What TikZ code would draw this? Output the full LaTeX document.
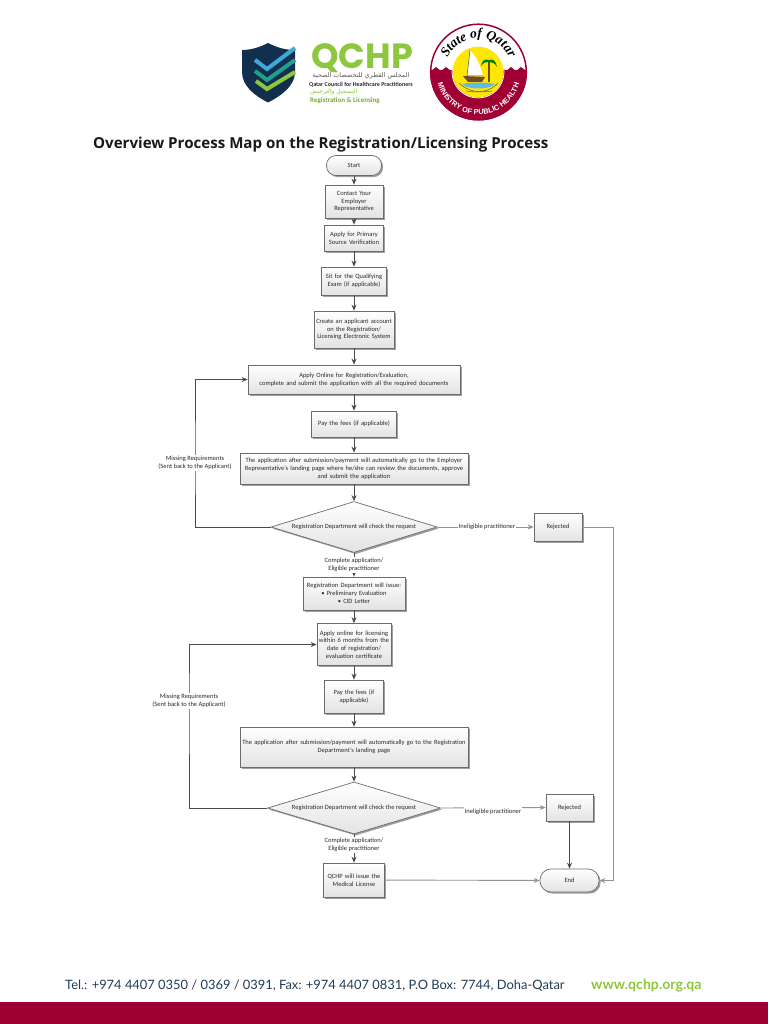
\documentclass[tikz,border=0pt]{standalone}
\usepackage{fontspec}
\setmainfont{Carlito}
\newfontfamily\titlefont{Open Sans}
\newfontfamily\logofont{Poppins}
\newfontfamily\footfont{Lato}
\newfontfamily\sealfont{Liberation Serif}
\newfontfamily\sealsans{Liberation Sans}
\newfontfamily\arabicfont[Script=Arabic]{DejaVu Sans}
\TeXXeTstate=1
\usetikzlibrary{shapes.geometric,shadows,arrows.meta,decorations.text}
\definecolor{qgreen}{HTML}{8DC63F}
\definecolor{qmaroon}{HTML}{A00033}
\definecolor{qnavy}{HTML}{12304D}
\definecolor{qblue}{HTML}{3FA9DC}
\definecolor{qteal}{HTML}{1FA08C}
\definecolor{lineg}{HTML}{4A4A4A}
\definecolor{txt}{HTML}{2A2A2A}
\tikzset{
  boxlook/.style={draw=gray!85!black,line width=.7pt,top color=white,bottom color=gray!22,
    drop shadow={shadow xshift=1.6pt,shadow yshift=-1.6pt,fill=gray!75,opacity=1},
    text=txt,font=\fontsize{6.5}{7.8}\selectfont,align=center,inner sep=0pt},
  flowbox/.style={boxlook,rectangle},
  term/.style={boxlook,rectangle,rounded corners=9.5pt},
  decide/.style={boxlook,diamond,aspect=3.2},
  flow/.style={draw=lineg,line width=.9pt,-{Stealth[length=6pt,width=5pt]}},
  flowlight/.style={flow,draw=gray!85},
  lab/.style={fill=white,text=txt,font=\fontsize{6.5}{7.8}\selectfont,align=center,inner sep=1pt},
  bx/.style 2 args={minimum width=#1pt,minimum height=#2pt,text width=#1pt},
}
\begin{document}
\begin{tikzpicture}[x=1pt,y=-1pt]
\useasboundingbox (0,0) rectangle (768,1024);
\fill[white] (0,0) rectangle (768,1024);

% --- shield logo
\fill[qnavy] (268,43) .. controls (258,48) and (250,50) .. (242,50) -- (242,72) .. controls (242,86) and (255,96) .. (268,102.5) .. controls (281,96) and (295,86) .. (295,72) -- (295,50) .. controls (286,50) and (278,48) .. (268,43) -- cycle;
\draw[qblue,line width=4pt] (255,60) -- (267,69) -- (295,48);
\draw[qteal,line width=4pt] (255,71) -- (267,80) -- (295,60);
\draw[qgreen,line width=4pt] (256,81) -- (267,89) -- (295,72);
\node[inner sep=0pt,anchor=center,text=qgreen,font=\logofont\bfseries\fontsize{35}{35}\selectfont] (qchp) at (362,58) {QCHP};
\node[inner sep=0pt,text=gray!70!black,font=\arabicfont\fontsize{6.4}{7}\selectfont] (ar1) at (361,76) {\beginR المجلس القطري للتخصصات الصحية\endR};
\node[inner sep=0pt,text=txt,font=\bfseries\fontsize{6}{6}\selectfont] (qc) at (361,84.5) {Qatar Council for Healthcare Practitioners};
\node[inner sep=0pt,anchor=west,text=qgreen,font=\arabicfont\fontsize{6}{6}\selectfont] (ar2) at (310,92) {\beginR التسجيل والترخيص\endR};
\node[inner sep=0pt,anchor=west,text=qgreen!85!black,font=\bfseries\fontsize{7}{7}\selectfont] (rl) at (310,100.5) {Registration \& Licensing};

% --- seal
\fill[white] (478.5,72) circle[radius=48.5pt];
\begin{scope}
  \clip (428,71) rectangle (530,122);
  \fill[qmaroon] (478.5,72) circle[radius=48.5pt];
\end{scope}
\draw[qmaroon,line width=1.5pt] (478.5,72) circle[radius=47.8pt];
\fill[qmaroon] (431,71) -- (436,67) -- (441,71) -- (446,67) -- (451,71) -- (456,67) -- (461,71) -- (496,71) -- (501,67) -- (506,71) -- (511,67) -- (516,71) -- (521,67) -- (526,71) -- cycle;
\fill[yellow!90!orange] (478,72) circle[radius=25.5pt];
\draw[white,line width=.8pt] (478,72) circle[radius=26pt];
\fill[white] (470,50) -- (467,76) -- (483,76) .. controls (481,66) and (476,56) .. (470,50) -- cycle;
\draw[black!70,line width=.5pt] (470,50) -- (467,76) -- (483,76);
\fill[brown!60!black] (463,76) -- (485,77) -- (482,82) -- (468,82) -- cycle;
\draw[brown!60!black,line width=1.4pt] (489,82) -- (489,62);
\fill[green!50!black] (489,60) .. controls (483,58) and (482,62) .. (481,66) .. controls (484,62) and (486,62) .. (489,62) .. controls (492,62) and (495,63) .. (497,67) .. controls (496,62) and (494,58) .. (489,60) -- cycle;
\fill[qblue!80] (462,84) .. controls (470,82) and (487,82) .. (495,84) .. controls (490,90) and (467,90) .. (462,84) -- cycle;
\draw[black!60,line width=.6pt] (459,83) .. controls (468,92) and (480,93) .. (492,91);
\draw[black!60,line width=.6pt] (498,83) .. controls (490,92) and (478,93) .. (466,91);
\path[postaction={decorate,decoration={text along path,text align=center,
   text={|\sealfont\bfseries\itshape\fontsize{13.5}{15}\selectfont\color{black}|State of Qatar}}}]
   (444.5,72) arc[start angle=180,end angle=0,radius=34pt];
\path[postaction={decorate,decoration={text along path,text align=center,
   text={|\sealsans\bfseries\fontsize{7.4}{8}\selectfont\color{white}|MINISTRY OF PUBLIC HEALTH}}}]
   (436,72) arc[start angle=180,end angle=360,radius=42.5pt];

% --- title
\node[inner sep=0pt,anchor=west,text=black!90,font=\titlefont\bfseries\fontsize{15.1}{17}\selectfont] (title) at (93,144.5) {Overview Process Map on the Registration/Licensing Process};

% --- process boxes
\node[term,minimum width=55pt,minimum height=20pt] (start) at (354,165.5) {Start};
\node[flowbox,bx={58}{33}] (contact) at (354,201.5) {Contact Your\\Employer\\Representative};
\node[flowbox,bx={59}{26}] (psv) at (354,238) {Apply for Primary\\Source Verification};
\node[flowbox,bx={65}{28}] (exam) at (354,281) {Sit for the Qualifying\\Exam (if applicable)};
\node[flowbox,bx={80}{37}] (acct) at (354,329.5) {Create an applicant account\\on the Registration/\\Licensing Electronic System};
\node[flowbox,bx={212}{29}] (online) at (354,379.5) {Apply Online for Registration/Evaluation,\\complete and submit the application with all the required documents};
\node[flowbox,bx={85}{26}] (fees) at (354,424) {Pay the fees (if applicable)};
\node[flowbox,bx={228}{31}] (emp) at (354,468.5) {The application after submission/payment will automatically go to the Employer\\Representative’s landing page where he/she can review the documents, approve\\and submit the application};
\node[decide,minimum width=166pt,minimum height=51pt] (d1) at (354,527) {Registration Department will check the request};
\node[flowbox,bx={102}{33}] (issue) at (354,593.5) {Registration Department will issue:\\• Preliminary Evaluation\\• CID Letter};
\node[flowbox,bx={74}{42}] (lic) at (354,644.5) {Apply online for licensing\\within 6 months from the\\date of registration/\\evaluation certificate};
\node[flowbox,bx={59}{33}] (fees2) at (354,696.5) {Pay the fees (if\\applicable)};
\node[flowbox,bx={228}{40}] (dept) at (354,747) {The application after submission/payment will automatically go to the Registration\\Department’s landing page};
\node[decide,minimum width=173pt,minimum height=52pt] (d2) at (354,808) {Registration Department will check the request};
\node[flowbox,bx={61}{34}] (issuelic) at (354,880) {QCHP will issue the\\Medical License};
\node[flowbox,bx={48}{28}] (rej1) at (558,527) {Rejected};
\node[flowbox,bx={47}{27}] (rej2) at (569.5,807.5) {Rejected};
\node[term,minimum width=59pt,minimum height=23pt,rounded corners=11pt] (end) at (569.5,880.5) {End};

% --- free corners of the return paths
\coordinate (ret1) at (195,463);
\coordinate (ret2) at (189,701);
\coordinate (ret3) at (613,700);

% --- connectors
\draw[flow] (start) -- (contact);
\draw[flow] (contact) -- (psv);
\draw[flow] (psv) -- (exam);
\draw[flow] (exam) -- (acct);
\draw[flow] (acct) -- (online);
\draw[flow] (online) -- (fees);
\draw[flow] (fees) -- (emp);
\draw[flow] (emp) -- (d1);
\draw[flow] (d1) -- (issue);
\draw[flow] (issue) -- (lic);
\draw[flow] (lic) -- (fees2);
\draw[flow] (fees2) -- (dept);
\draw[flow] (dept) -- (d2);
\draw[flow] (d2) -- (issuelic);
\draw[flow] (d1.west) -| (ret1) |- (online.west);
\draw[flow] (d2.west) -| (ret2) |- (lic.west);
\draw[flowlight] (d1.east) -- (rej1.west);
\draw[flowlight] (d2.east) -- (rej2.west);
\draw[flowlight] (rej1.east) -| (ret3) |- (end.east);
\draw[flow] (rej2) -- (end);
\draw[flowlight] (issuelic) -- (end);

% --- connector labels
\node[lab] (m1) at (195,463) {Missing Requirements\\(Sent back to the Applicant)};
\node[lab] (m2) at (189,701) {Missing Requirements\\(Sent back to the Applicant)};
\node[lab,inner sep=.5pt] (i1) at (487,527) {Ineligible practitioner};
\node[lab,minimum height=11pt] (i2) at (493,812) {Ineligible practitioner};
\node[lab] (c1) at (354,565) {Complete application/\\Eligible practitioner};
\node[lab] (c2) at (354,845) {Complete application/\\Eligible practitioner};

% --- footer
\node[inner sep=0pt,anchor=west,text=qnavy!85!gray,font=\footfont\fontsize{12.9}{15}\selectfont] (tel) at (65,986) {Tel.: +974 4407 0350 / 0369 / 0391, Fax: +974 4407 0831, P.O Box: 7744, Doha-Qatar};
\node[inner sep=0pt,anchor=west,text=qgreen,font=\footfont\bfseries\fontsize{14.1}{15}\selectfont] (web) at (591,986) {www.qchp.org.qa};
\fill[qmaroon] (0,1002) rectangle (768,1024);
\end{tikzpicture}
\end{document}
